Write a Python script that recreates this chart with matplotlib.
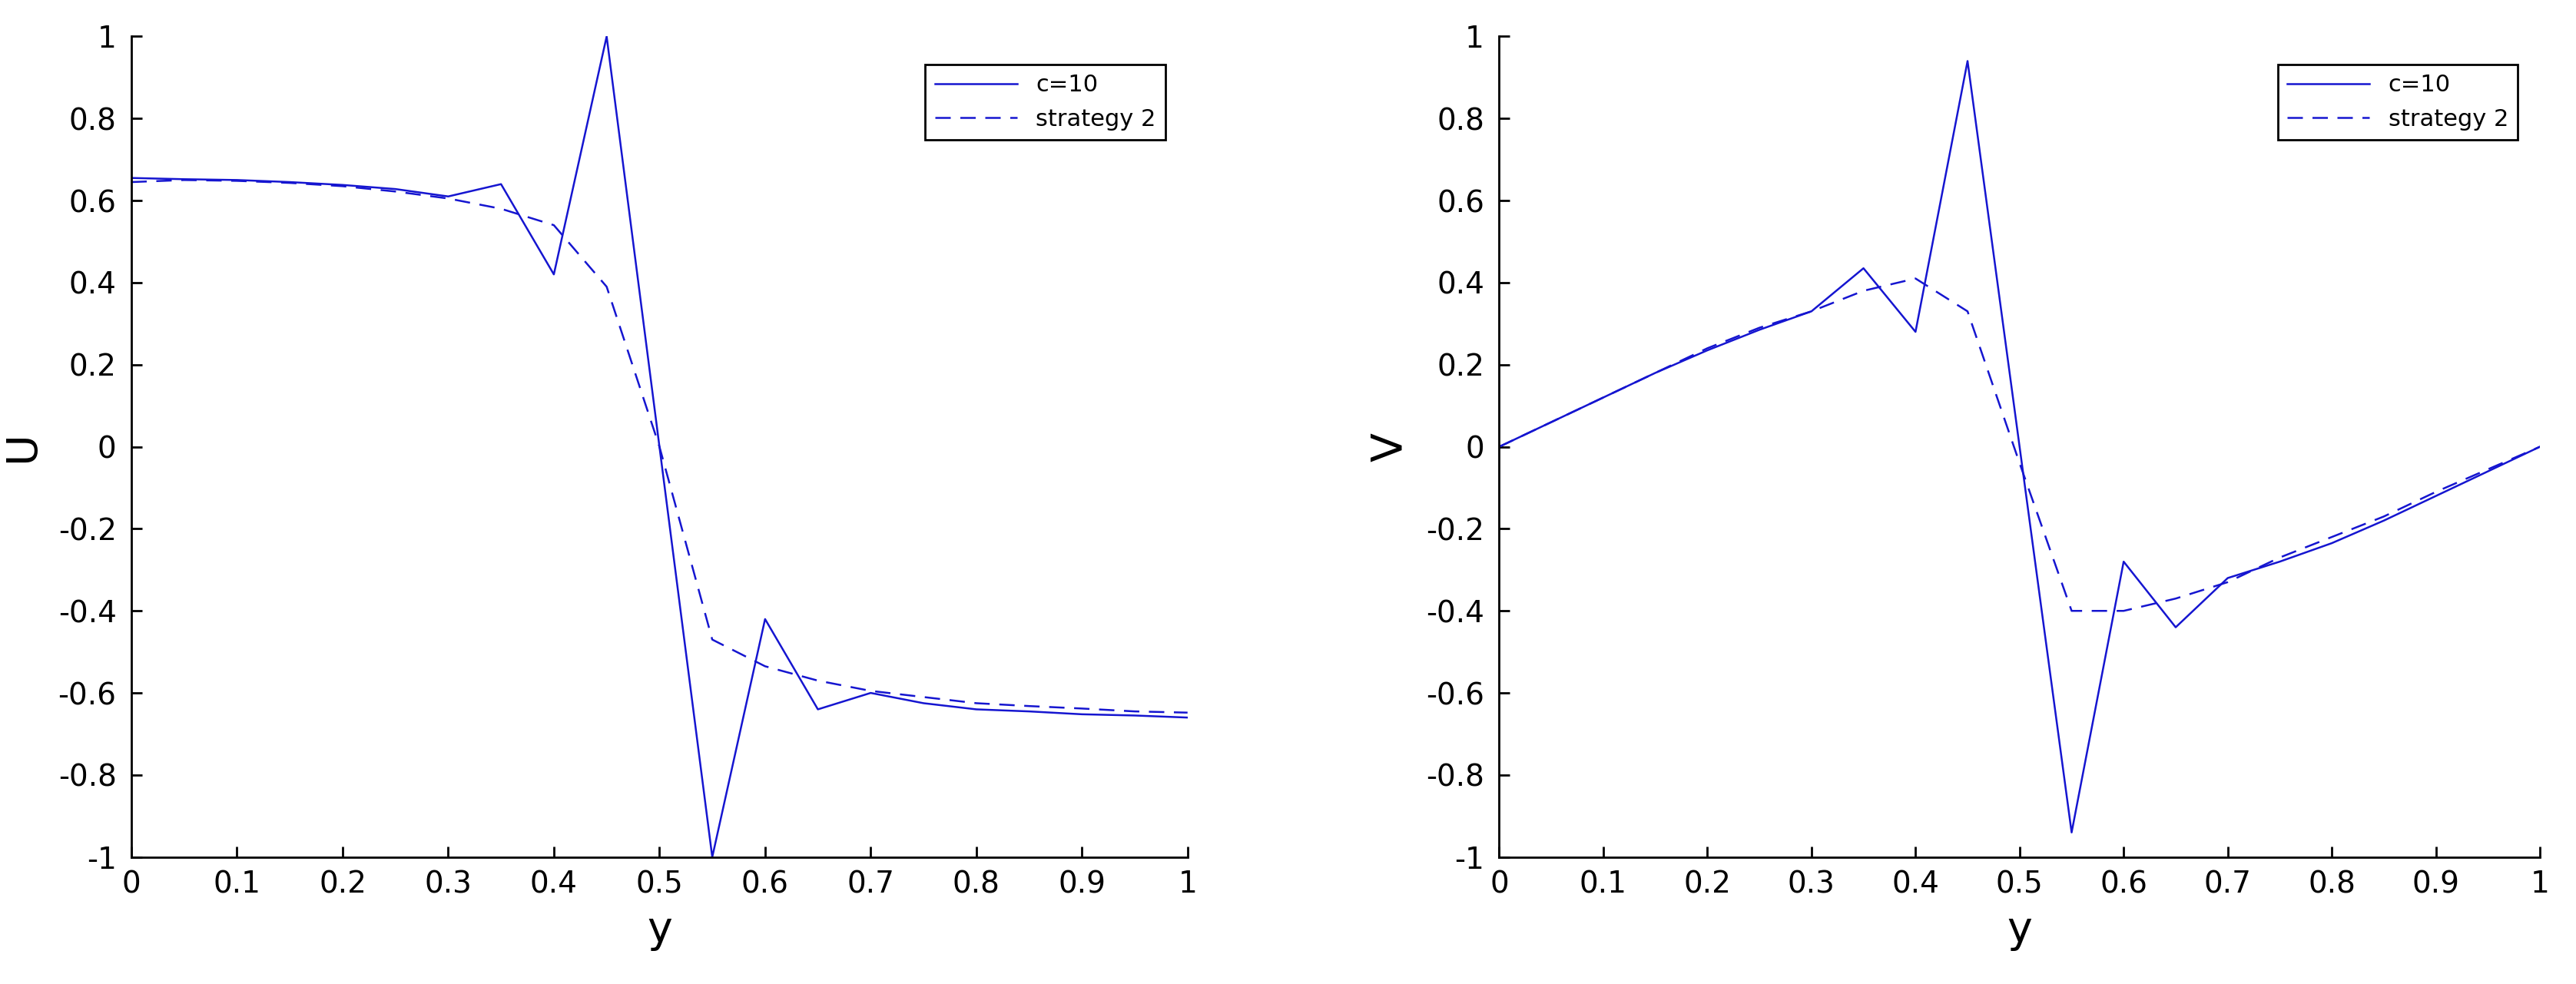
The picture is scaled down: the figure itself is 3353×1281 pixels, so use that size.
import matplotlib
matplotlib.use("Agg")
import matplotlib.pyplot as plt
import numpy as np

x = [0,0.05,0.1,0.15,0.2,0.25,0.3,0.35,0.4,0.45,0.5,0.55,0.6,0.65,0.7,0.75,0.8,0.85,0.9,0.95,1.0]
u_c10 = [0.655,0.652,0.65,0.645,0.638,0.628,0.61,0.64,0.42,1.0,0.0,-1.0,-0.42,-0.64,-0.60,-0.625,-0.64,-0.645,-0.652,-0.655,-0.66]
u_s2 = [0.645,0.65,0.648,0.643,0.635,0.622,0.605,0.58,0.54,0.39,0.0,-0.47,-0.535,-0.57,-0.595,-0.61,-0.625,-0.632,-0.638,-0.645,-0.648]
v_c10 = [0.0,0.06,0.12,0.18,0.235,0.285,0.33,0.435,0.28,0.94,0.0,-0.94,-0.28,-0.44,-0.32,-0.28,-0.235,-0.18,-0.12,-0.06,0.0]
v_s2 = [0.0,0.06,0.12,0.18,0.24,0.29,0.33,0.38,0.41,0.33,-0.04,-0.40,-0.40,-0.37,-0.33,-0.27,-0.22,-0.17,-0.11,-0.055,0.0]
xticks = [0,0.1,0.2,0.3,0.4,0.5,0.6,0.7,0.8,0.9,1]
yticks = [-1,-0.8,-0.6,-0.4,-0.2,0,0.2,0.4,0.6,0.8,1]
fmt = lambda v: "0" if v == 0 else ("1" if v == 1 else ("-1" if v == -1 else f"{v:g}"))

fig = plt.figure(figsize=(33.53, 12.81), dpi=100)
col = "#1515d0"
boxes = [[0.051, 0.129, 0.410, 0.834], [0.582, 0.129, 0.404, 0.834]]
for box, c10, s2, lab in zip(boxes, [u_c10, v_c10], [u_s2, v_s2], ["U", "V"]):
    ax = fig.add_axes(box)
    ax.plot(x, c10, color=col, lw=1.8, label="c=10")
    ax.plot(x, s2, color=col, lw=1.8, ls=(0, (8, 5)), label="strategy 2")
    ax.set_xlim(0, 1); ax.set_ylim(-1, 1)
    ax.set_xticks(xticks); ax.set_xticklabels([fmt(v) for v in xticks])
    ax.set_yticks(yticks); ax.set_yticklabels([fmt(v) for v in yticks])
    ax.tick_params(direction="in", labelsize=28, length=10, width=2)
    ax.tick_params(axis="x", pad=12)
    ax.tick_params(axis="y", pad=14)
    for s in ["top", "right"]:
        ax.spines[s].set_visible(False)
    for s in ["left", "bottom"]:
        ax.spines[s].set_linewidth(2)
    ax.set_xlabel("y", fontsize=40, labelpad=10)
    ax.set_ylabel(lab, fontsize=40, labelpad=14)
    leg = ax.legend(loc="upper right", bbox_to_anchor=(0.99, 0.98), fontsize=22, fancybox=False,
                    edgecolor="black", framealpha=1, handlelength=3.5)
    leg.get_frame().set_linewidth(2)
fig.savefig("out.png", dpi=100)
